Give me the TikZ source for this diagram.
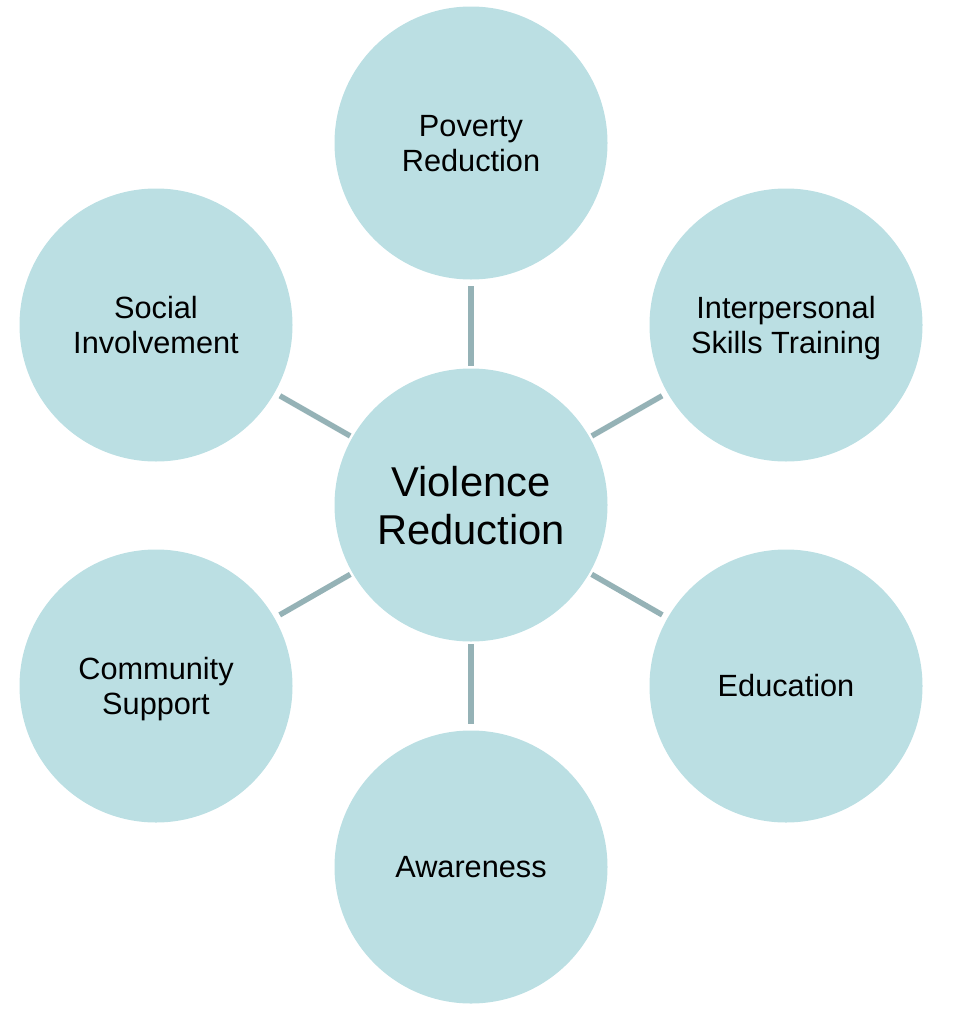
\documentclass[tikz,border=0pt]{standalone}
\usepackage{fontspec}
\setmainfont{Liberation Sans}
\definecolor{circfill}{HTML}{BBDFE3}
\definecolor{linkcol}{HTML}{95B2B6}
\begin{document}
\begin{tikzpicture}[x=1pt,y=-1pt,
  bubble/.style={circle,fill=circfill,draw=none,minimum size=273pt,inner sep=0pt,align=center,
    font=\fontsize{30.7}{35}\selectfont},
  twoline/.style={bubble,text depth=-4pt},
  hub/.style={twoline,font=\fontsize{41.7}{48}\selectfont},
  link/.style={draw=linkcol,line width=5.5pt,shorten <=2.5pt,shorten >=6pt}]
\useasboundingbox (0,0) rectangle (970,1009);
\node[hub] (c) at (471,505) {Violence\\Reduction};
\node[twoline] (t) at (471,143) {Poverty\\Reduction};
\node[twoline] (tr) at (786,325) {Interpersonal\\Skills Training};
\node[bubble] (br) at (786,686) {Education};
\node[bubble] (b) at (471,867) {Awareness};
\node[twoline] (bl) at (156,686) {Community\\Support};
\node[twoline] (tl) at (156,325) {Social\\Involvement};
\foreach \n in {t,tr,br,b,bl,tl} \draw[link] (c) -- (\n);
\end{tikzpicture}
\end{document}
